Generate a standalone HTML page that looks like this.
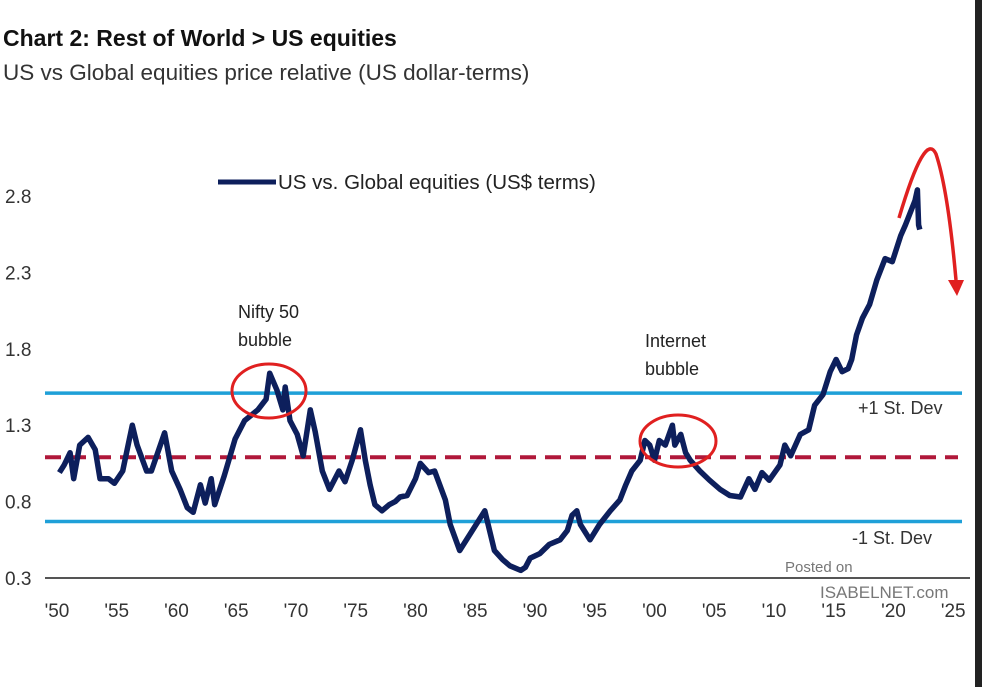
<!DOCTYPE html>
<html><head><meta charset="utf-8"><style>
body{margin:0;background:#fff;width:982px;height:687px;overflow:hidden}
svg text{font-family:"Liberation Sans Narrow","Liberation Sans",sans-serif}
</style></head><body>
<svg id="chart" width="982" height="687" xmlns="http://www.w3.org/2000/svg">
<rect x="975" y="0" width="7" height="687" fill="#222"/>
<text x="3" y="46" font-size="23" font-weight="bold" fill="#111">Chart 2: Rest of World &gt; US equities</text>
<text x="3" y="80" font-size="22.5" fill="#333">US vs Global equities price relative (US dollar-terms)</text>
<line x1="218" y1="182" x2="276" y2="182" stroke="#0d1f5c" stroke-width="5"/>
<text x="278" y="189" font-size="20.5" fill="#222">US vs. Global equities (US$ terms)</text>
<g id="axes"></g>
<g id="series"></g>
<text x="238" y="318" font-size="18" fill="#222">Nifty 50</text>
<text x="238" y="346" font-size="18" fill="#222">bubble</text>
<ellipse cx="269" cy="391" rx="37" ry="27" fill="none" stroke="#e02020" stroke-width="3"/>
<text x="645" y="347" font-size="18" fill="#222">Internet</text>
<text x="645" y="375" font-size="18" fill="#222">bubble</text>
<ellipse cx="678" cy="441" rx="38" ry="26" fill="none" stroke="#e02020" stroke-width="3"/>
<text x="858" y="414" font-size="18" fill="#333">+1 St. Dev</text>
<text x="852" y="544" font-size="18" fill="#333">-1 St. Dev</text>
<path d="M899,218 Q925,130 936,154 Q948,190 956,280" fill="none" stroke="#e02020" stroke-width="3.5"/>
<polygon points="948,280 964,280 957,296" fill="#e02020"/>
<text x="785" y="572" font-size="15" fill="#777" font-family="Liberation Sans">Posted on</text>
<text x="820" y="598" font-size="17" fill="#777" font-family="Liberation Sans">ISABELNET.com</text>
</svg>
<script>
const years=[1950.2,1950.6,1951.1,1951.4,1951.9,1952.6,1953.2,1953.6,1954.3,1954.8,1955.5,1956.3,1956.7,1957.5,1957.9,1959.0,1959.6,1960.3,1960.9,1961.4,1962.0,1962.4,1962.9,1963.2,1964.0,1964.9,1965.7,1966.8,1967.5,1967.8,1968.4,1968.9,1969.1,1969.5,1970.1,1970.6,1971.2,1971.6,1972.2,1972.8,1973.6,1974.1,1974.7,1975.4,1975.8,1976.2,1976.6,1977.2,1977.8,1978.3,1978.7,1979.3,1980.0,1980.4,1981.1,1981.6,1982.5,1982.9,1983.7,1985.8,1986.2,1986.6,1987.3,1987.9,1988.8,1989.2,1989.6,1990.4,1991.2,1992.1,1992.7,1993.1,1993.5,1993.8,1994.6,1995.4,1996.3,1997.1,1997.6,1998.1,1998.8,1999.2,1999.6,2000.0,2000.4,2000.9,2001.5,2001.7,2002.2,2002.6,2003.0,2003.8,2004.6,2005.5,2006.3,2007.2,2007.9,2008.4,2009.0,2009.6,2010.5,2010.9,2011.4,2012.2,2012.9,2013.4,2014.1,2014.7,2015.2,2015.7,2016.2,2016.5,2016.9,2017.4,2018.0,2018.6,2019.3,2019.9,2020.6,2021.0,2021.3,2021.8,2022.0,2022.1,2022.2];
const values=[0.99,1.04,1.12,0.95,1.17,1.22,1.14,0.95,0.95,0.92,1.0,1.30,1.17,1.0,1.0,1.25,1.0,0.88,0.76,0.73,0.91,0.79,0.95,0.78,0.97,1.21,1.33,1.40,1.47,1.64,1.53,1.40,1.55,1.33,1.24,1.10,1.40,1.26,1.0,0.88,1.0,0.93,1.07,1.27,1.07,0.91,0.78,0.74,0.78,0.80,0.83,0.84,0.95,1.05,0.99,1.0,0.81,0.65,0.48,0.74,0.61,0.48,0.42,0.38,0.35,0.37,0.43,0.46,0.52,0.55,0.61,0.71,0.74,0.65,0.55,0.65,0.74,0.81,0.91,1.0,1.07,1.20,1.17,1.07,1.20,1.17,1.30,1.17,1.24,1.12,1.07,1.0,0.94,0.88,0.84,0.83,0.95,0.88,0.99,0.94,1.04,1.17,1.10,1.24,1.27,1.43,1.50,1.65,1.73,1.65,1.67,1.73,1.89,2.0,2.09,2.25,2.39,2.37,2.54,2.61,2.67,2.77,2.84,2.61,2.58];
const yTicks=[0.3,0.8,1.3,1.8,2.3,2.8];
const xTicks=[1950,1955,1960,1965,1970,1975,1980,1985,1990,1995,2000,2005,2010,2015,2020,2025];
const xTickLabels=["'50","'55","'60","'65","'70","'75","'80","'85","'90","'95","'00","'05","'10","'15","'20","'25"];
const refLevels=[1.51,1.09,0.67];
const NS="http://www.w3.org/2000/svg";
const X=yr=>57+(yr-1950)*11.95;
const Y=v=>578-(v-0.3)*152.8;
const ax=document.getElementById('axes'),se=document.getElementById('series');
function mk(tag,at,parent){const e=document.createElementNS(NS,tag);for(const k in at)e.setAttribute(k,at[k]);parent.appendChild(e);return e;}
yTicks.forEach(v=>{const t=mk('text',{x:5,y:Y(v)+7,'font-size':19,fill:'#333'},ax);t.textContent=v.toFixed(1);

});
xTicks.forEach((yr,i)=>{const t=mk('text',{x:X(yr),y:617,'font-size':19,fill:'#333','text-anchor':'middle'},ax);t.textContent=xTickLabels[i];

});
const axl=mk('line',{x1:45,y1:578,x2:970,y2:578,stroke:'#555','stroke-width':2},ax);


refLevels.forEach((v,i)=>{const l=mk('line',{x1:45,y1:Y(v),x2:962,y2:Y(v),stroke:i==1?'#b0183a':'#1fa0d8','stroke-width':i==1?4:3.5},ax);
if(i==1){l.setAttribute('stroke-dasharray','16 9');l.setAttribute('x2',958);}

});
const p=mk('polyline',{points:years.map((y,i)=>X(y).toFixed(1)+','+Y(values[i]).toFixed(1)).join(' '),fill:'none',stroke:'#0d1f5c','stroke-width':5.5,'stroke-linejoin':'round'},se);


</script>
</body></html>
